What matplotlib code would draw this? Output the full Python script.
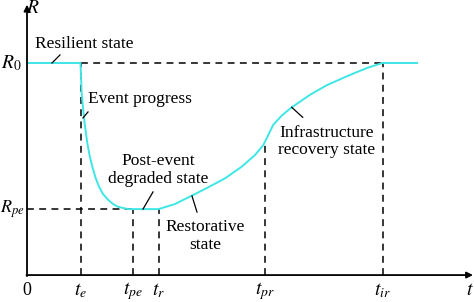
import matplotlib
matplotlib.use("Agg")
import matplotlib.pyplot as plt

# Resilience curve (time in arbitrary units, R normalised to R0 = 1)
curve_t = [0.0, 5.35, 5.47, 5.70, 5.85, 6.03, 6.25, 6.53, 6.85, 7.20, 7.6, 8.13,
           8.6, 9.10, 10.1, 10.6,
           13.15, 14.8, 16.47, 18.13, 19.8, 21.47, 22.8, 23.63, 23.97, 24.63,
           25.5, 26.47, 28.3, 29.97, 31.97, 33.97, 35.55, 39.1]
curve_R = [1.0, 1.0, 0.857, 0.741, 0.684, 0.623, 0.566, 0.511, 0.460, 0.417, 0.382, 0.354,
           0.335, 0.322, 0.311, 0.311,
           0.311, 0.335, 0.374, 0.414, 0.456, 0.511, 0.566, 0.613, 0.645, 0.709,
           0.753, 0.791, 0.850, 0.895, 0.937, 0.976, 1.0, 1.0]

R0 = 1.0
Rpe = 0.311
tick_names = ['$t_e$', '$t_{pe}$', '$t_r$', '$t_{pr}$', '$t_{ir}$']
tick_t = [5.35, 10.6, 13.15, 23.8, 35.55]
tick_top = [R0, Rpe, Rpe, 0.627, R0]

labels = ['Resilient state', 'Event progress', 'Post-event\ndegraded state',
          'Restorative\nstate', 'Infrastructure\nrecovery state']

tkw = dict(family='Liberation Serif', math_fontfamily='stix')

fig = plt.figure(figsize=(4.74, 3.02), dpi=100)
ax = fig.add_axes([0, 0, 1, 1])
ax.set_xlim(-2.7, 44.7)
ax.set_ylim(-0.127, 1.297)
ax.axis('off')

dash = dict(color='black', lw=1.1, ls=(0, (4.5, 3.5)))
cyan = '#3ee6e6'

# dashed guide lines
ax.plot([tick_t[0], tick_t[4]], [R0, R0], **dash)
ax.plot([0, tick_t[1]], [Rpe, Rpe], **dash)
for t, top in zip(tick_t, tick_top):
    ax.plot([t, t], [0, top], **dash)

# curve
ax.plot(curve_t, curve_R, color=cyan, lw=1.4, solid_capstyle='butt',
        solid_joinstyle='round')

# axes with arrows
ax.annotate('', xy=(0, 1.275), xytext=(0, -0.005),
            arrowprops=dict(arrowstyle='-|>', color='black', lw=1.3,
                            mutation_scale=9, shrinkA=0, shrinkB=0))
ax.annotate('', xy=(44.6, 0), xytext=(-0.05, 0),
            arrowprops=dict(arrowstyle='-|>', color='black', lw=1.3,
                            mutation_scale=9, shrinkA=0, shrinkB=0))

fs = 12.5
ax.text(0.6, 1.255, '$R$', fontsize=14, ha='center', va='center', **tkw)
ax.text(44.3, -0.072, '$t$', fontsize=14, ha='center', va='center', **tkw)
ax.text(-0.5, R0, '$R_0$', fontsize=14, ha='right', va='center', **tkw)
ax.text(-0.2, Rpe, '$R_{pe}$', fontsize=13, ha='right', va='center', **tkw)
ax.text(0, -0.072, '0', fontsize=13, ha='center', va='center', **tkw)
for name, t in zip(tick_names, tick_t):
    ax.text(t, -0.075, name, fontsize=14, ha='center', va='center', **tkw)

# state labels and pointers
ax.text(0.8, 1.09, labels[0], fontsize=fs, ha='left', va='center', **tkw)
ax.plot([2.5, 3.3], [1.0, 1.038], color='black', lw=0.9)
ax.text(6.1, 0.83, labels[1], fontsize=fs, ha='left', va='center', **tkw)
ax.plot([5.6, 6.1], [0.741, 0.769], color='black', lw=0.9)
ax.text(13.1, 0.495, labels[2], fontsize=fs, ha='center', va='center',
        linespacing=1.1, **tkw)
ax.plot([11.6, 12.6], [0.311, 0.392], color='black', lw=0.9)
ax.text(17.8, 0.184, labels[3], fontsize=fs, ha='center', va='center',
        linespacing=1.1, **tkw)
ax.plot([16.5, 17.0], [0.373, 0.297], color='black', lw=0.9)
ax.text(30.0, 0.63, labels[4], fontsize=fs, ha='center', va='center',
        linespacing=1.1, **tkw)
ax.plot([26.47, 27.57], [0.791, 0.744], color='black', lw=0.9)

fig.savefig('out.png', dpi=100)
